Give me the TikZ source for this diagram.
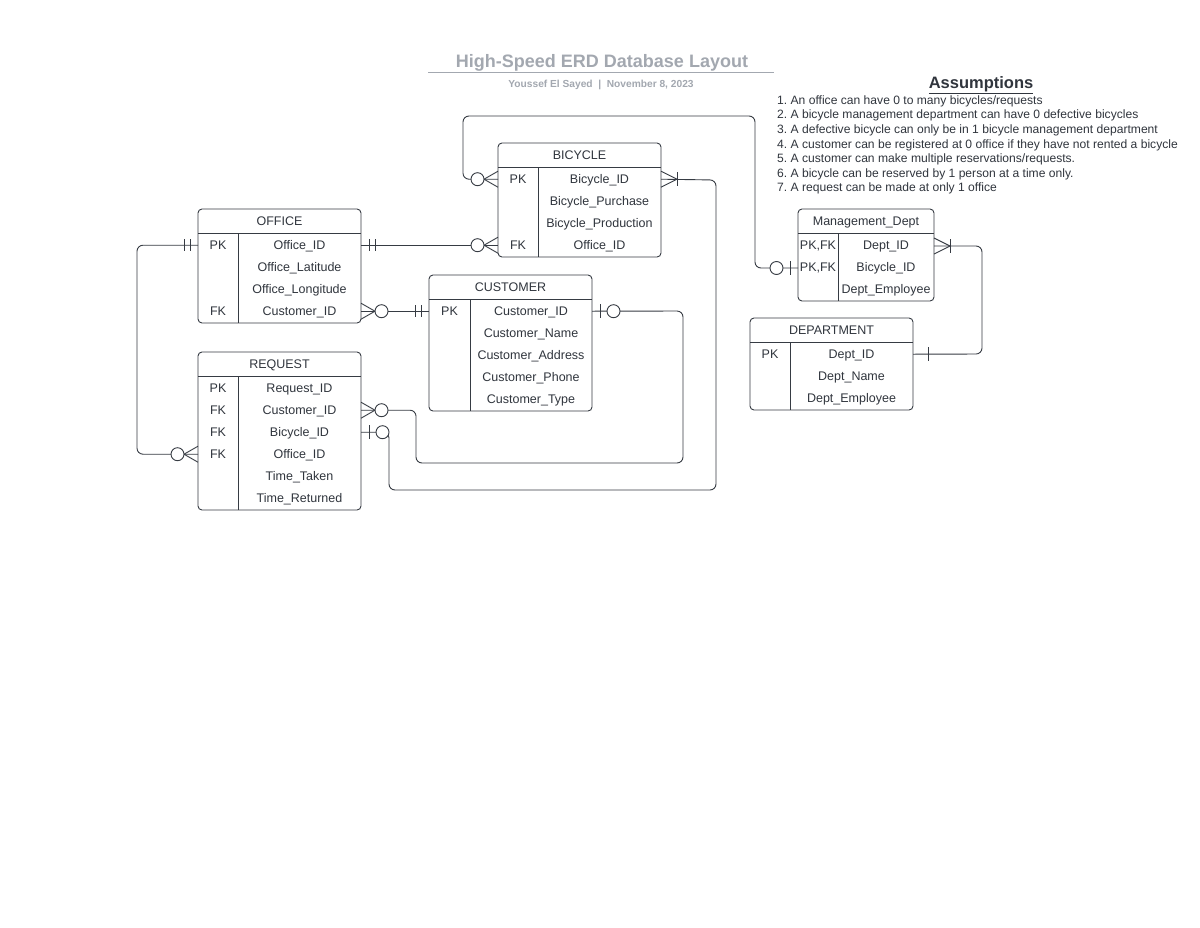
\documentclass[tikz,border=0pt]{standalone}
\usepackage{fontspec}
\setmainfont{Liberation Sans}
\frenchspacing
\definecolor{linec}{HTML}{363B43}
\definecolor{txtc}{HTML}{30353D}
\definecolor{titlec}{HTML}{A3A8B0}
\tikzset{
  ebox/.style={draw=linec, line width=0.9pt, rounded corners=4pt, inner sep=0pt, outer sep=0pt, anchor=north west},
  ertext/.style={font=\fontsize{12.5}{14}\selectfont, text=txtc, inner sep=0pt, anchor=base},
  erhead/.style={font=\fontsize{12.5}{14}\selectfont, text=txtc, inner sep=0pt, anchor=base},
  conn/.style={draw=linec, line width=0.9pt, rounded corners=6pt},
  endmark/.style={draw=linec, line width=0.9pt, sharp corners},
  zmany/.pic={\draw[endmark] (0,-8) -- (14,0) -- (0,8); \draw[endmark, fill=white] (20.5,0) circle (6.5pt);},
  onemany/.pic={\draw[endmark] (0,-8) -- (16,0) -- (0,8); \draw[endmark] (16,-7) -- (16,7);},
  onlyone/.pic={\draw[endmark] (8,-6) -- (8,6) (14,-6) -- (14,6);},
  zone/.pic={\draw[endmark] (8,-7) -- (8,7); \draw[endmark, fill=white] (21.5,0) circle (6.5pt);},
  one/.pic={\draw[endmark] (15,-7) -- (15,7);},
}
% #1 name, #2 left, #3 top, #4 width, #5 key width, #6 title, #7 rows, #8 row count
\newcommand{\erent}[8]{%
  \node[ebox, minimum width=#4pt, minimum height={26pt+22pt*#8}] (#1) at (#2,#3) {};
  \draw[draw=linec, line width=0.9pt] ([yshift=-24pt]#1.north west) -- ([yshift=-24pt]#1.north east);
  \draw[draw=linec, line width=0.9pt] ([xshift=#5pt,yshift=-24pt]#1.north west) -- ([xshift=#5pt]#1.south west);
  \node[erhead] (#1-t) at ({#2+#4/2},{#3+12+4.5}) {#6};
  \foreach \k/\a [count=\i] in {#7} {
    \node[ertext] (#1-k\i) at ({#2+#5/2},{#3+36+4.5+22*(\i-1)}) {\k};
    \node[ertext] (#1-a\i) at ({#2+#5+(#4-#5)/2},{#3+36+4.5+22*(\i-1)}) {\a};
  }
}
\begin{document}
\begin{tikzpicture}[x=1pt,y=-1pt]
\useasboundingbox[fill=white] (0,0) rectangle (1200,927);

% title
\node[font=\bfseries\fontsize{18}{20}\selectfont, text=titlec, inner sep=0pt, anchor=base] (title) at (602,67.5) {High-Speed ERD Database Layout};
\draw[draw=titlec, line width=1.6pt] (428,72.5) -- (774,72.5);
\node[font=\bfseries\fontsize{10.2}{12}\selectfont, text=titlec, inner sep=0pt, anchor=base] (subtitle) at (601,87.5) {Youssef El Sayed \ \textbar\ \ November 8, 2023};

% assumptions
\node[font=\bfseries\fontsize{16.5}{18}\selectfont, text=txtc, inner sep=0pt, anchor=base] (assume) at (981,88) {\underline{Assumptions}};
\foreach \t [count=\j] in {
  {1. An office can have 0 to many bicycles/requests},
  {2. A bicycle management department can have 0 defective bicycles},
  {3. A defective bicycle can only be in 1 bicycle management department},
  {4. A customer can be registered at 0 office if they have not rented a bicycle},
  {5. A customer can make multiple reservations/requests.},
  {6. A bicycle can be reserved by 1 person at a time only.},
  {7. A request can be made at only 1 office}} {
  \node[font=\fontsize{12.1}{13}\selectfont, text=txtc, inner sep=0pt, anchor=base west] (as\j) at (777,{104.3+14.6*(\j-1)}) {\t};
}

% entities
\erent{office}{198}{209}{163}{40}{OFFICE}{PK/Office\_ID, /Office\_Latitude, /Office\_Longitude, FK/Customer\_ID}{4}
\erent{bicycle}{498}{143}{163}{40}{BICYCLE}{PK/Bicycle\_ID, /Bicycle\_Purchase, /Bicycle\_Production, FK/Office\_ID}{4}
\erent{customer}{429}{275}{163}{41}{CUSTOMER}{PK/Customer\_ID, /Customer\_Name, /Customer\_Address, /Customer\_Phone, /Customer\_Type}{5}
\erent{request}{198}{352}{163}{40}{REQUEST}{PK/Request\_ID, FK/Customer\_ID, FK/Bicycle\_ID, FK/Office\_ID, /Time\_Taken, /Time\_Returned}{6}
\erent{mgmt}{798}{209}{136}{40}{Management\_Dept}{{PK,FK}/Dept\_ID, {PK,FK}/Bicycle\_ID, /Dept\_Employee}{3}
\erent{dept}{750}{318}{163}{40}{DEPARTMENT}{PK/Dept\_ID, /Dept\_Name, /Dept\_Employee}{3}

% connectors
\draw[conn] (office.west |- office-k1.center) -- ++(-61,0) |- (request.west |- request-k4.center);
\draw[conn] (office.east |- office-k1.center) -- (bicycle.west |- bicycle-k4.center);
\draw[conn] (office.east |- office-k4.center) -- (customer.west |- customer-k1.center);
\draw[conn] (bicycle.west |- bicycle-k1.center) -| (463,116) -- (755,116) |- (mgmt.west |- mgmt-k2.center);
\draw[conn] (request.east |- request-k3.center) -| (389,490) -| (716,180) -- (bicycle.east |- bicycle-k1.center);
\draw[conn] (request.east |- request-k2.center) -| (416,463) -| (683,311) -- (customer.east |- customer-k1.center);
\draw[conn] (mgmt.east |- mgmt-k1.center) -| (982,354) -- (dept.east |- dept-k1.center);

% end markers
\path (office.west |- office-k1.center) pic[xscale=-1] {onlyone};
\path (request.west |- request-k4.center) pic[xscale=-1] {zmany};
\path (office.east |- office-k1.center) pic {onlyone};
\path (bicycle.west |- bicycle-k4.center) pic[xscale=-1] {zmany};
\path (office.east |- office-k4.center) pic {zmany};
\path (customer.west |- customer-k1.center) pic[xscale=-1] {onlyone};
\path (bicycle.west |- bicycle-k1.center) pic[xscale=-1] {zmany};
\path (mgmt.west |- mgmt-k2.center) pic[xscale=-1] {zone};
\path (bicycle.east |- bicycle-k1.center) pic {onemany};
\path (request.east |- request-k3.center) pic {zone};
\path (customer.east |- customer-k1.center) pic {zone};
\path (request.east |- request-k2.center) pic {zmany};
\path (mgmt.east |- mgmt-k1.center) pic {onemany};
\path (dept.east |- dept-k1.center) pic {one};
\end{tikzpicture}
\end{document}
